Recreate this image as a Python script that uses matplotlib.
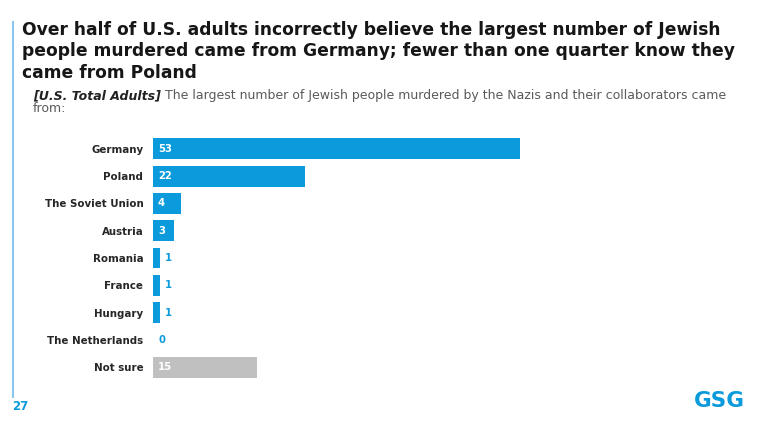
import matplotlib.pyplot as plt
from matplotlib.lines import Line2D

# data
countries = ['Germany', 'Poland', 'The Soviet Union', 'Austria', 'Romania',
             'France', 'Hungary', 'The Netherlands', 'Not sure']
values = [53, 22, 4, 3, 1, 1, 1, 0, 15]

title = ('Over half of U.S. adults incorrectly believe the largest number of Jewish\n'
         'people murdered came from Germany; fewer than one quarter know they\n'
         'came from Poland')
sub_tag = '[U.S. Total Adults]'
sub_line1 = 'The largest number of Jewish people murdered by the Nazis and their collaborators came'
sub_line2 = 'from:'

blue = '#0B9ADB'
grey = '#C0C0C0'
bar_colors = [blue] * 8 + [grey]
font = 'DejaVu Sans'

fig = plt.figure(figsize=(7.68, 4.32), dpi=100)
W, H = 768, 432

# axes placed in pixel terms
left, right = 153, 553
top, bottom = 135.3, 380.7
ax = fig.add_axes([left / W, 1 - bottom / H, (right - left) / W, (bottom - top) / H])
ax.set_xlim(0, (right - left) / 6.92)
ax.set_ylim(len(countries) - 0.5, -0.5)

ypos = list(range(len(countries)))
ax.barh(ypos, values, height=0.77, color=bar_colors, edgecolor='none')

for y, v in zip(ypos, values):
    if v >= 3:
        ax.text(0.7, y, str(v), color='white', fontsize=7.2, fontweight='bold',
                va='center', ha='left', family=font)
    else:
        ax.text(v + 0.75, y, str(v), color=blue, fontsize=7.2, fontweight='bold',
                va='center', ha='left', family=font)

ax.set_yticks(ypos)
ax.set_yticklabels(countries, fontsize=7.4, fontweight='bold', family=font, color='#262626')
ax.tick_params(axis='y', length=0, pad=7)
ax.set_xticks([])
for s in ax.spines.values():
    s.set_visible(False)

# left accent line
fig.add_artist(Line2D([13 / W, 13 / W], [1 - 22 / H, 1 - 397 / H], color='#8CC8EE', lw=1.5))

# title
fig.text(22 / W, 1 - 21 / H, title,
         fontsize=12.35, fontweight='bold', family=font, color='#161616',
         va='top', ha='left', linespacing=1.24)

# subtitle, second part placed after the bold italic tag
r = fig.canvas.get_renderer()
tag = fig.text(33 / W, 1 - 96 / H, sub_tag, fontsize=9, fontweight='bold',
               style='italic', family=font, color='#222222', va='center', ha='left')
bb = tag.get_window_extent(r)
fig.text((bb.x1 + 4) / W, 1 - 96 / H, sub_line1,
         fontsize=9, family=font, color='#5a5a5a', va='center', ha='left')
fig.text(33 / W, 1 - 108 / H, sub_line2, fontsize=9, family=font, color='#5a5a5a',
         va='center', ha='left')

# page number and logo
fig.text(12 / W, 1 - 406 / H, '27', fontsize=8.5, fontweight='bold', family=font,
         color=blue, va='center', ha='left')
fig.text(745 / W, 1 - 401 / H, 'GSG', fontsize=15.5, fontweight='heavy', family=font,
         color=blue, va='center', ha='right')

fig.savefig('out.png', dpi=100)
